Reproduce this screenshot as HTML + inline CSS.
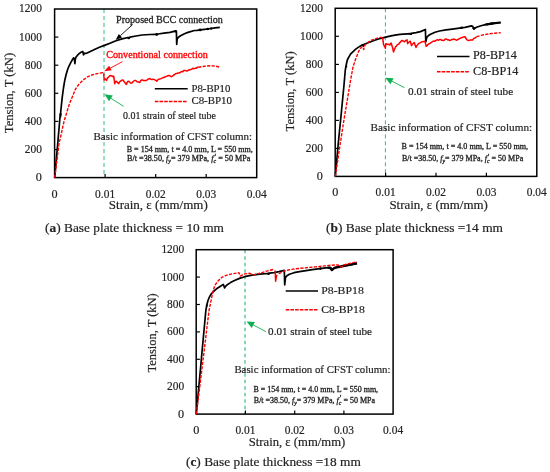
<!DOCTYPE html>
<html lang="en">
<head>
<meta charset="utf-8">
<title>Tension-strain curves</title>
<style>
html,body{margin:0;padding:0;background:#fff;}
body{width:550px;height:472px;overflow:hidden;}
svg{display:block;font-family:'Liberation Serif', serif;}
</style>
</head>
<body>
<svg width="550" height="472" viewBox="0 0 550 472">
<rect x="0" y="0" width="550" height="472" fill="#ffffff"/>
<line x1="104.0" y1="9.0" x2="104.0" y2="177.6" stroke="#35bd78" stroke-width="1.0" stroke-dasharray="4 3"/>
<rect x="54.6" y="9.0" width="202.1" height="168.6" fill="none" stroke="#000" stroke-width="1.5"/>
<line x1="54.6" y1="149.5" x2="58.3" y2="149.5" stroke="#000" stroke-width="1.2"/>
<line x1="54.6" y1="121.4" x2="58.3" y2="121.4" stroke="#000" stroke-width="1.2"/>
<line x1="54.6" y1="93.3" x2="58.3" y2="93.3" stroke="#000" stroke-width="1.2"/>
<line x1="54.6" y1="65.2" x2="58.3" y2="65.2" stroke="#000" stroke-width="1.2"/>
<line x1="54.6" y1="37.1" x2="58.3" y2="37.1" stroke="#000" stroke-width="1.2"/>
<line x1="105.1" y1="177.6" x2="105.1" y2="173.9" stroke="#000" stroke-width="1.2"/>
<line x1="155.7" y1="177.6" x2="155.7" y2="173.9" stroke="#000" stroke-width="1.2"/>
<line x1="206.2" y1="177.6" x2="206.2" y2="173.9" stroke="#000" stroke-width="1.2"/>
<path d="M54.7,177.6 L57.7,144.0 L60.0,117.0 L60.3,113.5 L60.5,117.0 L60.8,111.0 L62.2,97.6 L63.4,88.5 L64.7,80.7 L66.0,75.0 L67.3,70.5 L68.9,66.3 L70.6,62.9 L72.3,59.8 L73.7,57.8 L74.4,59.5 L74.9,63.7 L75.3,59.5 L75.8,57.6 L77.3,55.5 L79.1,53.6 L81.0,52.3 L82.8,51.5 L83.5,54.9 L84.5,53.2 L85.9,53.5 L88.2,52.4 L95.0,49.3 L100.0,47.0 L104.5,45.4 L110.0,43.2 L115.3,41.0 L122.0,38.9 L128.0,37.5 L129.0,38.2 L130.0,37.2 L136.0,36.0 L142.0,35.0 L150.0,34.5 L156.0,34.3 L157.0,34.7 L158.0,34.0 L164.0,33.2 L170.0,32.4 L174.0,31.4 L176.4,31.1 L176.7,44.5 L177.2,38.7 L179.0,36.8 L181.0,35.5 L185.0,33.5 L188.0,32.4 L194.4,30.5 L197.0,30.3 L200.7,29.8 L206.0,29.2 L210.9,28.5 L215.0,27.9 L219.8,27.3" fill="none" stroke="#000" stroke-width="1.7" stroke-linejoin="round" stroke-linecap="butt"/>
<path d="M54.7,177.6 L59.0,144.0 L64.1,121.1 L69.2,104.5 L75.5,89.0 L79.0,84.2 L83.2,79.9 L87.0,77.2 L90.8,75.3 L95.0,74.1 L99.0,73.2 L102.6,72.7 L103.7,73.5" fill="none" stroke="#ff0000" stroke-width="1.4" stroke-linejoin="round" stroke-linecap="butt" stroke-dasharray="3.2 1.3"/>
<path d="M103.7,73.5 L103.8,74.2 L103.8,74.9 L103.9,76.4 L104.0,76.7 L104.1,78.1 L104.1,78.8 L104.2,79.9 L105.3,79.0 L105.9,79.3 L106.5,80.5 L106.9,79.4 L107.3,78.2 L108.4,77.4 L109.5,76.0 L110.9,75.5 L112.2,76.4 L113.5,76.1 L113.7,76.6 L113.9,78.0 L114.1,79.0 L114.2,79.5 L114.3,80.4 L114.5,81.7 L114.6,83.1 L114.7,83.7 L115.1,82.4 L115.4,82.0 L116.0,81.2 L117.2,82.1 L117.8,82.6 L118.5,83.7 L119.0,83.0 L119.5,82.0 L120.5,81.2 L121.7,80.3 L123.0,79.9 L123.8,81.4 L124.5,82.0 L125.1,82.9 L125.6,83.5 L126.2,84.4 L126.7,84.0 L127.1,82.5 L128.1,81.2 L129.1,81.4 L130.0,82.5 L130.9,83.2 L131.9,83.1 L132.6,82.1 L133.2,81.5 L134.5,80.5 L135.3,80.5 L136.2,80.9 L137.0,81.8 L138.2,81.9 L139.5,82.5 L140.0,82.1 L140.5,81.0 L141.5,79.9 L142.5,79.9 L143.5,80.6 L144.7,80.6 L145.9,80.5 L146.9,80.1 L147.8,79.3 L148.8,78.8 L149.7,78.6 L150.8,79.2 L152.0,79.6 L152.9,79.2 L153.9,79.3 L154.8,79.9 L155.8,80.2 L156.7,81.2 L157.6,80.0 L158.6,79.3 L159.8,79.1 L161.0,78.6 L162.0,78.1 L163.0,77.6 L164.0,77.5 L165.0,77.0 L166.2,76.4 L167.5,76.0 L168.5,75.5 L169.5,75.5 L170.5,76.4 L171.5,76.7 L172.5,76.2 L173.5,75.0 L174.5,74.7 L175.5,73.7 L176.5,73.5 L177.4,73.3 L178.3,72.9 L179.2,73.0 L180.1,72.5 L181.0,71.9 L181.9,71.4 L182.8,71.8 L183.7,70.6 L184.6,70.6 L185.5,70.4 L186.4,71.0 L187.4,71.0 L188.4,70.1 L189.5,70.0 L190.7,69.5 L191.8,69.1 L192.7,68.3 L193.6,68.7 L194.5,68.6 L195.5,68.1 L196.4,68.2 L197.3,67.3 L198.2,67.2" fill="none" stroke="#ff0000" stroke-width="1.5" stroke-linejoin="round" stroke-linecap="butt"/>
<path d="M198.2,67.2 L204.5,66.2 L210.9,65.7 L216.0,66.2 L219.8,67.2" fill="none" stroke="#ff0000" stroke-width="1.4" stroke-linejoin="round" stroke-linecap="butt" stroke-dasharray="3.2 1.3"/>
<circle cx="128.7" cy="38.0" r="1.3" fill="#000"/>
<circle cx="156.6" cy="34.4" r="1.3" fill="#000"/>
<circle cx="175.4" cy="31.3" r="1.3" fill="#000"/>
<circle cx="200.1" cy="29.9" r="1.4" fill="#000"/>
<circle cx="207.8" cy="29.0" r="1.2" fill="#000"/>
<circle cx="211.2" cy="28.5" r="1.2" fill="#000"/>
<circle cx="60.6" cy="114.5" r="1.1" fill="#000"/>
<text x="41.9" y="181.0" font-size="12.2" fill="#222" stroke="#222" stroke-width="0.18" text-anchor="end">0</text>
<text x="41.9" y="152.9" font-size="12.2" fill="#222" stroke="#222" stroke-width="0.18" text-anchor="end" textLength="17.1" lengthAdjust="spacingAndGlyphs">200</text>
<text x="41.9" y="124.8" font-size="12.2" fill="#222" stroke="#222" stroke-width="0.18" text-anchor="end" textLength="17.1" lengthAdjust="spacingAndGlyphs">400</text>
<text x="41.9" y="96.7" font-size="12.2" fill="#222" stroke="#222" stroke-width="0.18" text-anchor="end" textLength="17.1" lengthAdjust="spacingAndGlyphs">600</text>
<text x="41.9" y="68.6" font-size="12.2" fill="#222" stroke="#222" stroke-width="0.18" text-anchor="end" textLength="17.1" lengthAdjust="spacingAndGlyphs">800</text>
<text x="41.9" y="40.5" font-size="12.2" fill="#222" stroke="#222" stroke-width="0.18" text-anchor="end" textLength="22.8" lengthAdjust="spacingAndGlyphs">1000</text>
<text x="41.9" y="12.4" font-size="12.2" fill="#222" stroke="#222" stroke-width="0.18" text-anchor="end" textLength="22.8" lengthAdjust="spacingAndGlyphs">1200</text>
<text x="54.6" y="197.5" font-size="12.2" fill="#222" stroke="#222" stroke-width="0.18" text-anchor="middle">0</text>
<text x="105.1" y="197.5" font-size="12.2" fill="#222" stroke="#222" stroke-width="0.18" text-anchor="middle" textLength="20.0" lengthAdjust="spacingAndGlyphs">0.01</text>
<text x="155.7" y="197.5" font-size="12.2" fill="#222" stroke="#222" stroke-width="0.18" text-anchor="middle" textLength="20.0" lengthAdjust="spacingAndGlyphs">0.02</text>
<text x="206.2" y="197.5" font-size="12.2" fill="#222" stroke="#222" stroke-width="0.18" text-anchor="middle" textLength="20.0" lengthAdjust="spacingAndGlyphs">0.03</text>
<text x="256.7" y="197.5" font-size="12.2" fill="#222" stroke="#222" stroke-width="0.18" text-anchor="middle" textLength="20.0" lengthAdjust="spacingAndGlyphs">0.04</text>
<text x="108.8" y="209.2" font-size="12.8" fill="#222" stroke="#222" stroke-width="0.18" text-anchor="start" textLength="99.0" lengthAdjust="spacingAndGlyphs">Strain, ε (mm/mm)</text>
<text transform="translate(12.8,133.2) rotate(-90)" font-size="12.6" fill="#222" stroke="#222" stroke-width="0.18" textLength="80.4" lengthAdjust="spacingAndGlyphs">Tension, T (kN)</text>
<line x1="154.8" y1="88.8" x2="187.7" y2="88.8" stroke="#000" stroke-width="1.5"/>
<line x1="154.8" y1="101.5" x2="187.7" y2="101.5" stroke="#ff0000" stroke-width="1.5" stroke-dasharray="3.6 1.1"/>
<text x="191.4" y="92.0" font-size="10.5" fill="#222" stroke="#222" stroke-width="0.18" text-anchor="start" textLength="39.0" lengthAdjust="spacingAndGlyphs">P8-BP10</text>
<text x="191.4" y="104.1" font-size="10.5" fill="#222" stroke="#222" stroke-width="0.18" text-anchor="start" textLength="40.6" lengthAdjust="spacingAndGlyphs">C8-BP10</text>
<line x1="123.6" y1="106.3" x2="110.9" y2="98.3" stroke="#0fae50" stroke-width="0.9"/>
<polygon points="104.5,94.3 112.8,95.4 109.1,101.3" fill="#0fae50"/>
<text x="123.0" y="118.5" font-size="9.8" fill="#222" stroke="#222" stroke-width="0.18" text-anchor="start" textLength="92.9" lengthAdjust="spacingAndGlyphs">0.01 strain of steel tube</text>
<text x="93.5" y="139.5" font-size="10.9" fill="#222" stroke="#222" stroke-width="0.18" text-anchor="start" textLength="158.6" lengthAdjust="spacingAndGlyphs">Basic information of CFST column:</text>
<text x="126.7" y="151.8" font-size="8.0" fill="#222" stroke="#222" stroke-width="0.18" text-anchor="start" textLength="126.2" lengthAdjust="spacingAndGlyphs" style="stroke-width:0.3">B = 154 mm, t = 4.0 mm, L = 550 mm,</text>
<text x="127.1" y="161.4" font-size="8.0" fill="#222" stroke="#222" stroke-width="0.3" textLength="123.3" lengthAdjust="spacingAndGlyphs">B/t =38.50, <tspan font-style="italic">f</tspan><tspan font-style="italic" font-size="5.8" dy="1.6">y</tspan><tspan dy="-1.6">= 379 MPa, </tspan><tspan font-style="italic">f</tspan><tspan font-style="italic" font-size="5.8" dy="1.6">c</tspan><tspan font-size="8.0" dy="-3.2" dx="-1.6">′</tspan><tspan dy="1.6"> = 50 MPa</tspan></text>
<text x="45.1" y="232.4" font-size="13.3" fill="#222" stroke="#222" stroke-width="0.18" textLength="178.8" lengthAdjust="spacingAndGlyphs">(<tspan font-weight="bold">a</tspan>) Base plate thickness = 10 mm</text>
<text x="116.1" y="22.8" font-size="9.9" fill="#222" stroke="#222" stroke-width="0.18" text-anchor="start" textLength="106.8" lengthAdjust="spacingAndGlyphs" style="stroke-width:0.28">Proposed BCC connection</text>
<line x1="132.5" y1="24.7" x2="120.4" y2="35.6" stroke="#000" stroke-width="0.9"/>
<polygon points="115.6,40.0 118.8,33.9 122.0,37.4" fill="#000"/>
<text x="106.2" y="58.0" font-size="10.0" fill="#ff0000" stroke="#ff0000" stroke-width="0.18" text-anchor="start" textLength="101.7" lengthAdjust="spacingAndGlyphs" style="stroke-width:0.3">Conventional connection</text>
<line x1="122.4" y1="61.7" x2="110.4" y2="68.0" stroke="#ff0000" stroke-width="0.9"/>
<polygon points="104.2,71.2 109.2,65.7 111.6,70.2" fill="#ff0000"/>
<line x1="385.4" y1="8.3" x2="385.4" y2="176.4" stroke="#35bd78" stroke-width="1.0" stroke-dasharray="4 3"/>
<rect x="335.2" y="8.3" width="201.6" height="168.1" fill="none" stroke="#000" stroke-width="1.5"/>
<line x1="335.2" y1="148.4" x2="338.9" y2="148.4" stroke="#000" stroke-width="1.2"/>
<line x1="335.2" y1="120.4" x2="338.9" y2="120.4" stroke="#000" stroke-width="1.2"/>
<line x1="335.2" y1="92.4" x2="338.9" y2="92.4" stroke="#000" stroke-width="1.2"/>
<line x1="335.2" y1="64.4" x2="338.9" y2="64.4" stroke="#000" stroke-width="1.2"/>
<line x1="335.2" y1="36.3" x2="338.9" y2="36.3" stroke="#000" stroke-width="1.2"/>
<line x1="385.6" y1="176.4" x2="385.6" y2="172.8" stroke="#000" stroke-width="1.2"/>
<line x1="436.0" y1="176.4" x2="436.0" y2="172.8" stroke="#000" stroke-width="1.2"/>
<line x1="486.4" y1="176.4" x2="486.4" y2="172.8" stroke="#000" stroke-width="1.2"/>
<path d="M335.3,176.4 L338.3,143.0 L341.3,113.0 L344.0,85.0 L345.3,70.0 L346.5,63.5 L347.5,59.5 L349.1,56.7 L350.5,54.2 L352.3,52.3 L356.0,48.9 L360.5,45.9 L362.5,44.7 L363.3,46.1 L364.0,44.3 L368.2,42.7 L374.0,40.5 L380.9,38.3 L389.8,36.1 L395.0,35.1 L400.0,34.4 L407.7,33.8 L410.0,33.6 L410.7,34.2 L411.5,33.4 L416.0,32.6 L420.5,31.6 L425.4,29.5 L425.8,41.8 L426.8,37.4 L428.5,35.5 L430.6,34.2 L435.0,32.3 L439.5,31.0 L446.0,29.9 L452.3,29.1 L461.2,27.8 L465.0,27.3 L471.5,25.9 L472.7,26.3 L474.0,29.1 L475.2,27.9 L476.5,27.2 L481.0,25.8 L485.5,24.6 L493.1,23.4 L500.7,22.5" fill="none" stroke="#000" stroke-width="1.7" stroke-linejoin="round" stroke-linecap="butt"/>
<path d="M485.5,24.6 L493.1,23.4 L500.7,22.5" fill="none" stroke="#000" stroke-width="2.2" stroke-linejoin="round" stroke-linecap="butt"/>
<path d="M335.3,176.4 L339.3,150.0 L343.6,122.0 L347.8,97.0 L350.6,80.0 L353.1,66.6 L355.5,59.6 L358.6,51.4 L360.3,48.5 L361.8,46.9 L362.8,47.5 L363.7,49.5 L364.3,46.5 L365.0,45.0 L368.0,42.3 L370.7,40.5 L375.8,38.6 L381.5,37.1" fill="none" stroke="#ff0000" stroke-width="1.4" stroke-linejoin="round" stroke-linecap="butt" stroke-dasharray="3.2 1.3"/>
<path d="M381.5,37.1 L382.1,38.0 L382.8,39.3 L382.9,39.9 L383.1,41.5 L383.2,41.9 L383.4,43.4 L383.5,44.4 L384.0,45.3 L384.5,46.5 L384.9,46.9 L385.4,48.2 L385.5,47.1 L385.6,45.6 L385.7,45.0 L386.0,43.7 L387.0,44.1 L388.0,44.6 L388.9,44.3 L389.8,45.0 L390.5,43.8 L391.1,43.1 L391.4,43.6 L391.8,45.0 L392.1,46.4 L392.4,47.0 L392.6,47.6 L392.9,48.7 L393.1,50.1 L393.4,51.5 L393.6,52.0 L393.9,51.1 L394.2,49.9 L394.5,49.0 L395.0,48.5 L395.5,46.9 L396.3,46.3 L397.2,44.9 L398.1,44.4 L398.8,44.2 L399.4,42.9 L400.1,42.5 L400.9,41.4 L401.8,40.7 L402.6,40.5 L403.5,41.4 L404.5,41.8 L405.1,40.9 L405.8,40.5 L407.1,39.9 L407.2,41.3 L407.4,42.0 L407.7,43.7 L408.4,42.6 L409.0,42.2 L410.3,41.2 L410.6,42.4 L410.9,43.5 L411.2,44.7 L411.5,45.6 L412.1,44.6 L412.8,43.8 L413.5,43.2 L414.1,42.5 L414.6,43.3 L415.0,45.0 L415.5,45.8 L416.0,47.5 L416.6,46.1 L417.2,45.3 L417.9,44.7 L418.5,43.7 L419.5,43.1 L420.5,42.6 L421.4,42.0 L422.4,41.8 L423.6,41.6 L424.9,41.2 L425.2,42.3 L425.5,43.5 L425.7,44.2 L426.0,45.7 L426.2,46.3 L427.0,45.8 L427.8,44.8 L428.6,44.0 L429.4,43.7 L430.4,43.1 L431.3,42.3 L432.2,41.8 L433.2,41.2 L434.3,41.3 L435.4,40.8 L436.5,40.2 L437.5,39.7 L438.5,40.3 L439.5,39.5 L440.5,39.4 L441.5,40.2 L442.4,40.3 L443.4,40.5 L444.2,40.3 L445.1,39.1 L445.9,39.0 L446.9,39.4 L447.8,39.9 L448.8,39.7 L449.7,40.5 L450.6,40.2 L451.6,39.6 L452.6,39.6 L453.5,39.0 L454.5,39.4 L455.5,39.6 L456.4,40.2 L457.4,39.9 L458.4,39.1 L459.3,38.7 L460.2,38.4 L461.2,37.7 L462.1,37.5 L463.0,37.1 L464.1,37.0 L465.1,36.7 L465.6,37.6 L466.0,38.5 L467.0,39.9 L468.0,40.3 L469.0,40.5 L470.0,40.1 L470.9,40.0 L471.8,40.1 L472.7,39.9 L473.6,38.6 L474.5,38.3 L475.5,37.7 L476.5,36.7" fill="none" stroke="#ff0000" stroke-width="1.5" stroke-linejoin="round" stroke-linecap="butt"/>
<path d="M476.5,36.7 L481.0,35.4 L485.5,34.4 L493.1,33.3 L500.7,32.7" fill="none" stroke="#ff0000" stroke-width="1.4" stroke-linejoin="round" stroke-linecap="butt" stroke-dasharray="3.2 1.3"/>
<circle cx="410.8" cy="33.9" r="1.2" fill="#000"/>
<circle cx="461.6" cy="27.8" r="1.3" fill="#000"/>
<circle cx="473.8" cy="28.2" r="1.3" fill="#000"/>
<circle cx="491.5" cy="23.6" r="1.3" fill="#000"/>
<circle cx="346.2" cy="66.5" r="1.1" fill="#000"/>
<text x="322.9" y="179.8" font-size="12.2" fill="#222" stroke="#222" stroke-width="0.18" text-anchor="end">0</text>
<text x="322.9" y="151.8" font-size="12.2" fill="#222" stroke="#222" stroke-width="0.18" text-anchor="end" textLength="17.1" lengthAdjust="spacingAndGlyphs">200</text>
<text x="322.9" y="123.8" font-size="12.2" fill="#222" stroke="#222" stroke-width="0.18" text-anchor="end" textLength="17.1" lengthAdjust="spacingAndGlyphs">400</text>
<text x="322.9" y="95.8" font-size="12.2" fill="#222" stroke="#222" stroke-width="0.18" text-anchor="end" textLength="17.1" lengthAdjust="spacingAndGlyphs">600</text>
<text x="322.9" y="67.8" font-size="12.2" fill="#222" stroke="#222" stroke-width="0.18" text-anchor="end" textLength="17.1" lengthAdjust="spacingAndGlyphs">800</text>
<text x="322.9" y="39.7" font-size="12.2" fill="#222" stroke="#222" stroke-width="0.18" text-anchor="end" textLength="22.8" lengthAdjust="spacingAndGlyphs">1000</text>
<text x="322.9" y="11.7" font-size="12.2" fill="#222" stroke="#222" stroke-width="0.18" text-anchor="end" textLength="22.8" lengthAdjust="spacingAndGlyphs">1200</text>
<text x="335.2" y="196.2" font-size="12.2" fill="#222" stroke="#222" stroke-width="0.18" text-anchor="middle">0</text>
<text x="385.6" y="196.2" font-size="12.2" fill="#222" stroke="#222" stroke-width="0.18" text-anchor="middle" textLength="20.0" lengthAdjust="spacingAndGlyphs">0.01</text>
<text x="436.0" y="196.2" font-size="12.2" fill="#222" stroke="#222" stroke-width="0.18" text-anchor="middle" textLength="20.0" lengthAdjust="spacingAndGlyphs">0.02</text>
<text x="486.4" y="196.2" font-size="12.2" fill="#222" stroke="#222" stroke-width="0.18" text-anchor="middle" textLength="20.0" lengthAdjust="spacingAndGlyphs">0.03</text>
<text x="536.8" y="196.2" font-size="12.2" fill="#222" stroke="#222" stroke-width="0.18" text-anchor="middle" textLength="20.0" lengthAdjust="spacingAndGlyphs">0.04</text>
<text x="389.4" y="208.5" font-size="12.8" fill="#222" stroke="#222" stroke-width="0.18" text-anchor="start" textLength="98.4" lengthAdjust="spacingAndGlyphs">Strain, ε (mm/mm)</text>
<text transform="translate(293.6,131.4) rotate(-90)" font-size="12.6" fill="#222" stroke="#222" stroke-width="0.18" textLength="80.2" lengthAdjust="spacingAndGlyphs">Tension, T (kN)</text>
<line x1="437.0" y1="56.4" x2="469.5" y2="56.4" stroke="#000" stroke-width="1.5"/>
<line x1="437.0" y1="71.8" x2="469.5" y2="71.8" stroke="#ff0000" stroke-width="1.5" stroke-dasharray="3.6 1.1"/>
<text x="473.1" y="59.4" font-size="11.7" fill="#222" stroke="#222" stroke-width="0.18" text-anchor="start" textLength="43.8" lengthAdjust="spacingAndGlyphs">P8-BP14</text>
<text x="473.1" y="75.3" font-size="11.7" fill="#222" stroke="#222" stroke-width="0.18" text-anchor="start" textLength="45.3" lengthAdjust="spacingAndGlyphs">C8-BP14</text>
<line x1="404.5" y1="87.7" x2="392.0" y2="81.2" stroke="#0fae50" stroke-width="0.9"/>
<polygon points="385.3,77.7 393.6,78.2 390.4,84.3" fill="#0fae50"/>
<text x="408.1" y="95.1" font-size="11.0" fill="#222" stroke="#222" stroke-width="0.18" text-anchor="start" textLength="105.1" lengthAdjust="spacingAndGlyphs">0.01 strain of steel tube</text>
<text x="370.5" y="130.9" font-size="11.1" fill="#222" stroke="#222" stroke-width="0.18" text-anchor="start" textLength="161.6" lengthAdjust="spacingAndGlyphs">Basic information of CFST column:</text>
<text x="401.6" y="149.4" font-size="8.0" fill="#222" stroke="#222" stroke-width="0.18" text-anchor="start" textLength="126.5" lengthAdjust="spacingAndGlyphs" style="stroke-width:0.3">B = 154 mm, t = 4.0 mm, L = 550 mm,</text>
<text x="402.0" y="161.2" font-size="8.0" fill="#222" stroke="#222" stroke-width="0.3" textLength="121.2" lengthAdjust="spacingAndGlyphs">B/t =38.50, <tspan font-style="italic">f</tspan><tspan font-style="italic" font-size="5.8" dy="1.6">y</tspan><tspan dy="-1.6">= 379 MPa, </tspan><tspan font-style="italic">f</tspan><tspan font-style="italic" font-size="5.8" dy="1.6">c</tspan><tspan font-size="8.0" dy="-3.2" dx="-1.6">′</tspan><tspan dy="1.6"> = 50 MPa</tspan></text>
<text x="326.0" y="232.4" font-size="13.3" fill="#222" stroke="#222" stroke-width="0.18" textLength="177.0" lengthAdjust="spacingAndGlyphs">(<tspan font-weight="bold">b</tspan>) Base plate thickness =14 mm</text>
<line x1="245.0" y1="249.7" x2="245.0" y2="414.1" stroke="#35bd78" stroke-width="1.2" stroke-dasharray="3.5 3"/>
<rect x="196.2" y="249.7" width="196.9" height="164.4" fill="none" stroke="#000" stroke-width="1.5"/>
<line x1="196.2" y1="386.7" x2="199.9" y2="386.7" stroke="#000" stroke-width="1.2"/>
<line x1="196.2" y1="359.3" x2="199.9" y2="359.3" stroke="#000" stroke-width="1.2"/>
<line x1="196.2" y1="331.9" x2="199.9" y2="331.9" stroke="#000" stroke-width="1.2"/>
<line x1="196.2" y1="304.5" x2="199.9" y2="304.5" stroke="#000" stroke-width="1.2"/>
<line x1="196.2" y1="277.1" x2="199.9" y2="277.1" stroke="#000" stroke-width="1.2"/>
<line x1="245.4" y1="414.1" x2="245.4" y2="410.4" stroke="#000" stroke-width="1.2"/>
<line x1="294.7" y1="414.1" x2="294.7" y2="410.4" stroke="#000" stroke-width="1.2"/>
<line x1="343.9" y1="414.1" x2="343.9" y2="410.4" stroke="#000" stroke-width="1.2"/>
<path d="M196.3,414.1 L199.0,385.0 L202.0,352.0 L204.5,325.0 L205.9,310.0 L207.2,303.5 L208.0,300.5 L209.1,297.7 L210.8,294.6 L212.9,292.0 L216.5,288.8 L220.5,286.3 L223.3,284.4 L224.0,286.3 L224.6,287.9 L225.7,286.2 L226.9,285.0 L230.5,282.6 L234.5,280.5 L239.5,278.4 L244.7,276.7 L252.0,275.2 L260.0,274.2 L267.7,273.5 L268.5,274.0 L269.3,273.2 L274.1,272.7 L279.0,271.7 L284.3,270.4 L284.7,285.0 L285.5,277.4 L287.3,275.4 L289.4,274.2 L294.0,272.7 L299.5,271.6 L306.0,270.6 L312.3,269.7 L320.0,268.6 L327.7,267.6 L330.3,267.8 L331.9,270.1 L333.6,268.5 L335.4,267.6 L341.0,266.5 L346.8,265.3 L352.0,264.3 L357.0,263.4" fill="none" stroke="#000" stroke-width="1.7" stroke-linejoin="round" stroke-linecap="butt"/>
<path d="M327.7,267.6 L330.3,267.8 L331.9,270.1 L333.6,268.5 L335.4,267.6 L341.0,266.5 L346.8,265.3 L352.0,264.3 L357.0,263.4" fill="none" stroke="#000" stroke-width="2.4" stroke-linejoin="round" stroke-linecap="butt"/>
<path d="M196.3,414.1 L200.0,385.0 L204.0,352.0 L207.0,327.0 L209.1,310.0 L211.0,300.9 L212.9,292.0 L214.0,288.0 L215.5,284.4 L218.5,280.4 L221.8,277.4 L225.0,275.8 L228.2,274.8 L233.5,273.6 L239.0,272.7 L239.6,274.5 L240.3,276.1 L242.5,274.8 L244.7,273.9 L249.8,273.3 L251.7,274.0 L253.6,274.8 L256.5,274.0 L260.0,273.3 L265.2,271.5 L270.0,270.2 L274.1,269.3" fill="none" stroke="#ff0000" stroke-width="1.4" stroke-linejoin="round" stroke-linecap="butt" stroke-dasharray="3.2 1.3"/>
<path d="M275.2,270.4 L275.2,271.3 L275.3,272.2 L275.3,273.1 L275.3,274.0 L275.4,274.9 L275.4,275.8 L275.4,276.7 L275.5,277.6 L275.5,278.5 L275.5,279.4 L275.6,280.3 L275.6,281.2 L275.8,280.3 L275.9,279.4 L276.1,278.4 L276.2,277.5 L276.4,276.6 L276.7,275.7 L276.9,274.8" fill="none" stroke="#ff0000" stroke-width="1.5" stroke-linejoin="round" stroke-linecap="butt"/>
<path d="M278.7,273.7 L280.5,272.9 L284.3,271.0 L288.5,270.0 L293.2,269.1 L299.5,268.4 L305.9,267.8 L315.0,266.9 L325.0,265.9 L330.3,265.3 L337.9,264.9 L339.5,266.0 L341.1,267.2 L342.3,266.0 L343.6,265.0 L350.0,263.4 L357.0,261.7" fill="none" stroke="#ff0000" stroke-width="1.4" stroke-linejoin="round" stroke-linecap="butt" stroke-dasharray="3.2 1.3"/>
<circle cx="268.6" cy="273.7" r="1.2" fill="#000"/>
<circle cx="320.5" cy="268.6" r="1.3" fill="#000"/>
<circle cx="331.9" cy="269.4" r="1.4" fill="#000"/>
<circle cx="206.8" cy="305.5" r="1.1" fill="#000"/>
<text x="184.2" y="417.5" font-size="12.2" fill="#222" stroke="#222" stroke-width="0.18" text-anchor="end">0</text>
<text x="184.2" y="390.1" font-size="12.2" fill="#222" stroke="#222" stroke-width="0.18" text-anchor="end" textLength="17.1" lengthAdjust="spacingAndGlyphs">200</text>
<text x="184.2" y="362.7" font-size="12.2" fill="#222" stroke="#222" stroke-width="0.18" text-anchor="end" textLength="17.1" lengthAdjust="spacingAndGlyphs">400</text>
<text x="184.2" y="335.3" font-size="12.2" fill="#222" stroke="#222" stroke-width="0.18" text-anchor="end" textLength="17.1" lengthAdjust="spacingAndGlyphs">600</text>
<text x="184.2" y="307.9" font-size="12.2" fill="#222" stroke="#222" stroke-width="0.18" text-anchor="end" textLength="17.1" lengthAdjust="spacingAndGlyphs">800</text>
<text x="184.2" y="280.5" font-size="12.2" fill="#222" stroke="#222" stroke-width="0.18" text-anchor="end" textLength="22.8" lengthAdjust="spacingAndGlyphs">1000</text>
<text x="184.2" y="253.1" font-size="12.2" fill="#222" stroke="#222" stroke-width="0.18" text-anchor="end" textLength="22.8" lengthAdjust="spacingAndGlyphs">1200</text>
<text x="196.2" y="434.2" font-size="12.2" fill="#222" stroke="#222" stroke-width="0.18" text-anchor="middle">0</text>
<text x="245.4" y="434.2" font-size="12.2" fill="#222" stroke="#222" stroke-width="0.18" text-anchor="middle" textLength="20.0" lengthAdjust="spacingAndGlyphs">0.01</text>
<text x="294.7" y="434.2" font-size="12.2" fill="#222" stroke="#222" stroke-width="0.18" text-anchor="middle" textLength="20.0" lengthAdjust="spacingAndGlyphs">0.02</text>
<text x="343.9" y="434.2" font-size="12.2" fill="#222" stroke="#222" stroke-width="0.18" text-anchor="middle" textLength="20.0" lengthAdjust="spacingAndGlyphs">0.03</text>
<text x="393.1" y="434.2" font-size="12.2" fill="#222" stroke="#222" stroke-width="0.18" text-anchor="middle" textLength="20.0" lengthAdjust="spacingAndGlyphs">0.04</text>
<text x="248.8" y="445.6" font-size="12.8" fill="#222" stroke="#222" stroke-width="0.18" text-anchor="start" textLength="96.4" lengthAdjust="spacingAndGlyphs">Strain, ε (mm/mm)</text>
<text transform="translate(155.9,372.6) rotate(-90)" font-size="12.6" fill="#222" stroke="#222" stroke-width="0.18" textLength="79.3" lengthAdjust="spacingAndGlyphs">Tension, T (kN)</text>
<line x1="285.7" y1="291.0" x2="318.0" y2="291.0" stroke="#000" stroke-width="1.5"/>
<line x1="285.7" y1="309.8" x2="318.0" y2="309.8" stroke="#ff0000" stroke-width="1.5" stroke-dasharray="3.6 1.1"/>
<text x="321.2" y="294.0" font-size="11.4" fill="#222" stroke="#222" stroke-width="0.18" text-anchor="start" textLength="42.6" lengthAdjust="spacingAndGlyphs">P8-BP18</text>
<text x="321.2" y="312.9" font-size="11.4" fill="#222" stroke="#222" stroke-width="0.18" text-anchor="start" textLength="43.6" lengthAdjust="spacingAndGlyphs">C8-BP18</text>
<line x1="266.0" y1="331.7" x2="253.3" y2="325.0" stroke="#0fae50" stroke-width="0.9"/>
<polygon points="246.6,321.4 254.9,321.9 251.7,328.0" fill="#0fae50"/>
<text x="268.1" y="335.3" font-size="10.9" fill="#222" stroke="#222" stroke-width="0.18" text-anchor="start" textLength="103.9" lengthAdjust="spacingAndGlyphs">0.01 strain of steel tube</text>
<text x="234.4" y="372.9" font-size="10.8" fill="#222" stroke="#222" stroke-width="0.18" text-anchor="start" textLength="156.1" lengthAdjust="spacingAndGlyphs">Basic information of CFST column:</text>
<text x="253.4" y="392.3" font-size="8.0" fill="#222" stroke="#222" stroke-width="0.18" text-anchor="start" textLength="124.7" lengthAdjust="spacingAndGlyphs" style="stroke-width:0.3">B = 154 mm, t = 4.0 mm, L = 550 mm,</text>
<text x="253.8" y="403.0" font-size="8.0" fill="#222" stroke="#222" stroke-width="0.3" textLength="121.2" lengthAdjust="spacingAndGlyphs">B/t =38.50, <tspan font-style="italic">f</tspan><tspan font-style="italic" font-size="5.8" dy="1.6">y</tspan><tspan dy="-1.6">= 379 MPa, </tspan><tspan font-style="italic">f</tspan><tspan font-style="italic" font-size="5.8" dy="1.6">c</tspan><tspan font-size="8.0" dy="-3.2" dx="-1.6">′</tspan><tspan dy="1.6"> = 50 MPa</tspan></text>
<text x="186.0" y="466.4" font-size="13.3" fill="#222" stroke="#222" stroke-width="0.18" textLength="174.8" lengthAdjust="spacingAndGlyphs">(<tspan font-weight="bold">c</tspan>) Base plate thickness =18 mm</text>
</svg>
</body>
</html>
